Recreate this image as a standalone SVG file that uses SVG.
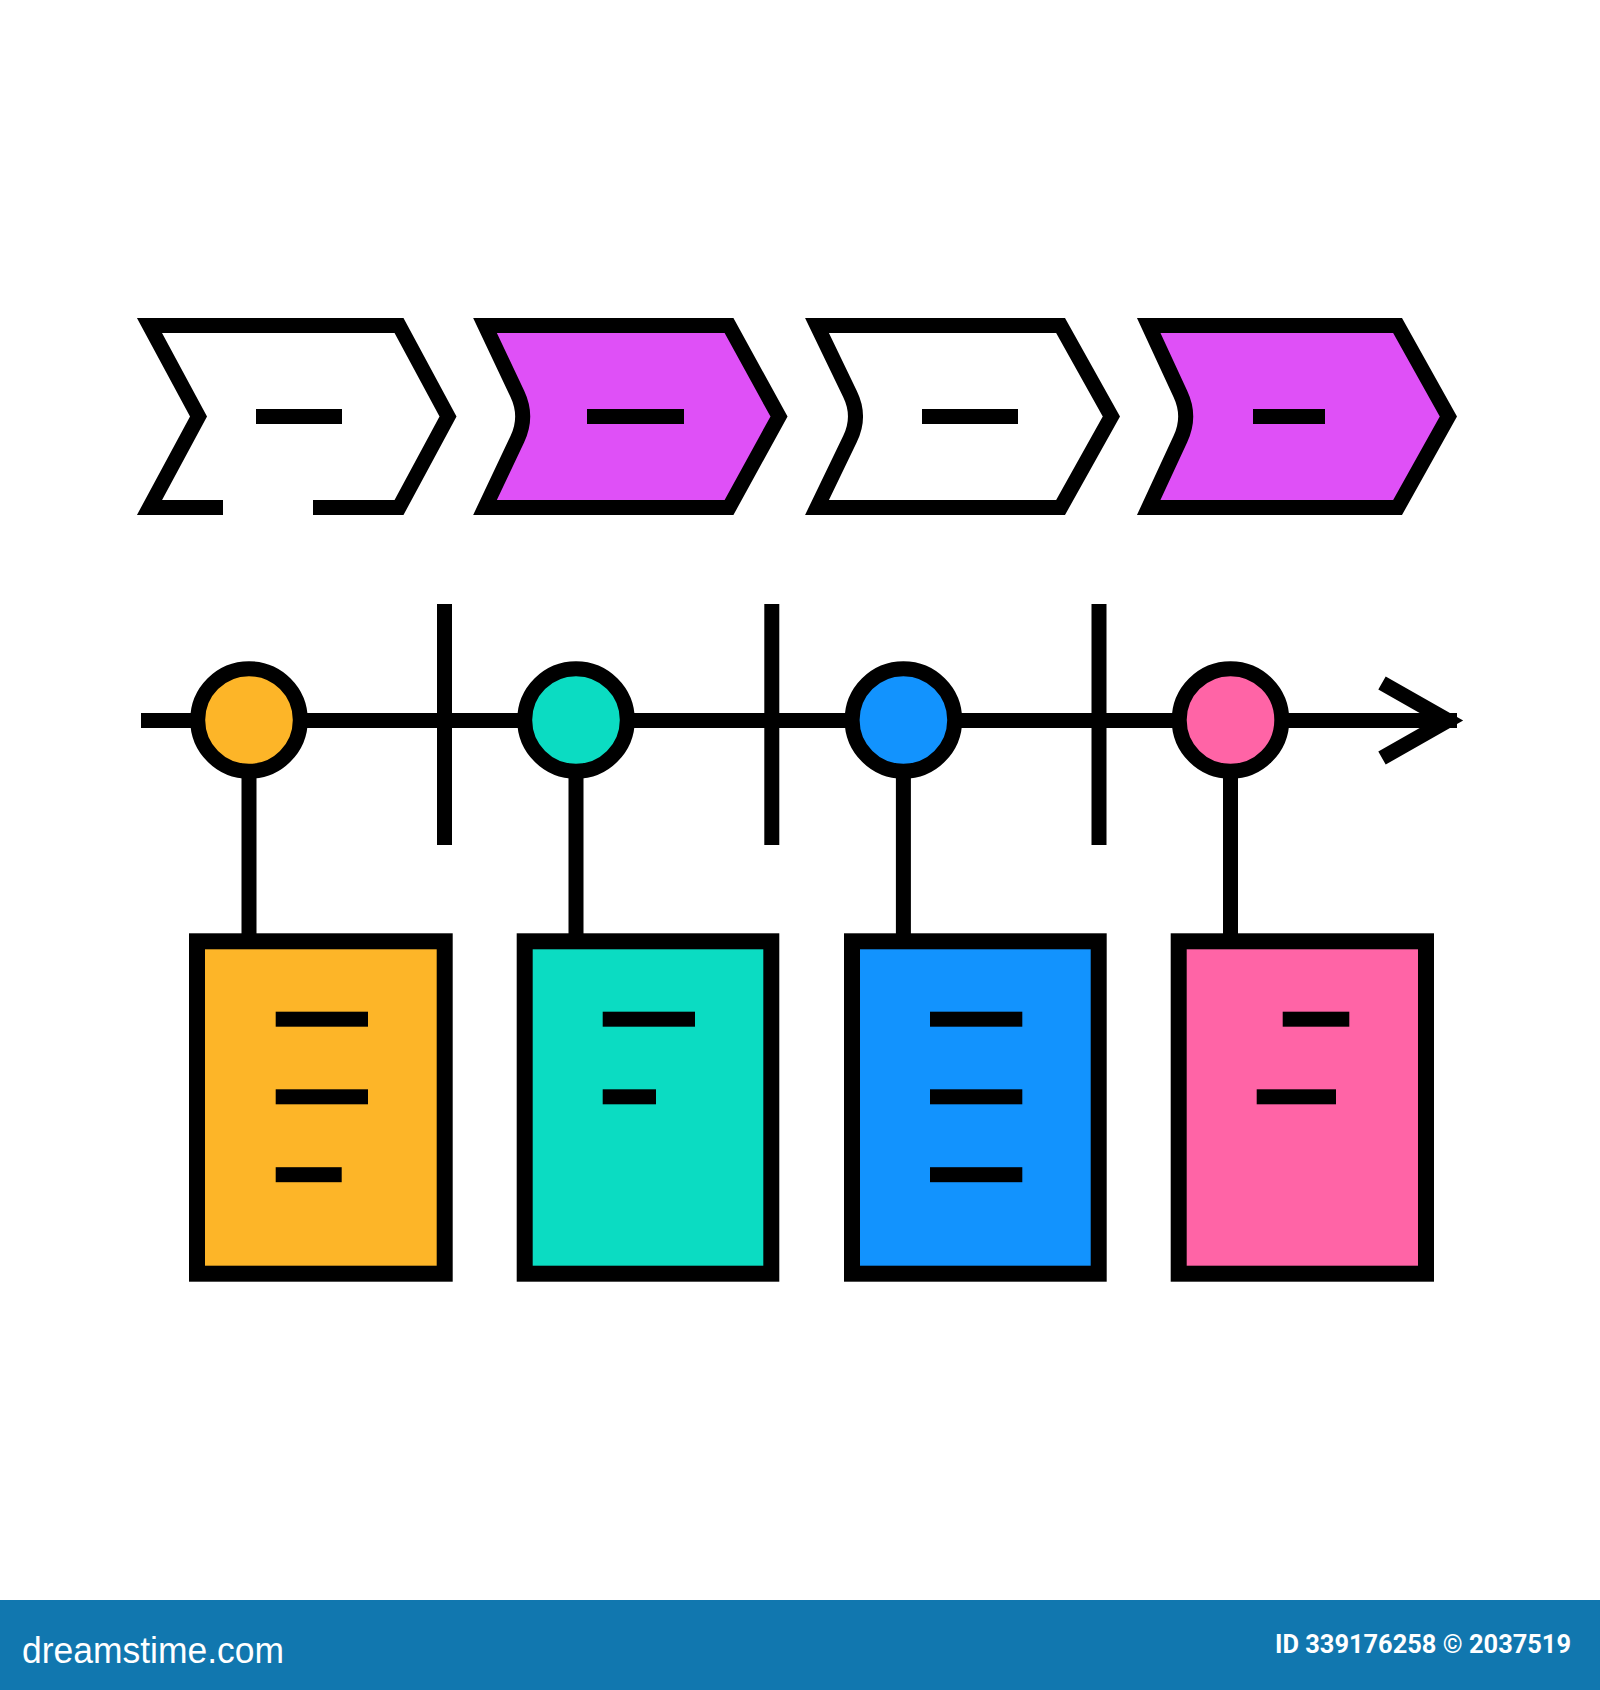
<svg xmlns="http://www.w3.org/2000/svg" width="1600" height="1690" viewBox="0 0 1600 1690">
<style>
.ln{fill:none;stroke:#000;stroke-width:15;stroke-linecap:butt;stroke-linejoin:miter;stroke-miterlimit:10}
.chev{stroke:#000;stroke-width:15;stroke-linejoin:miter;stroke-miterlimit:10}
.dash{fill:#000}
.node{stroke:#000;stroke-width:15}
.box{stroke:#000;stroke-width:16}
.purple{fill:#DF50F7}
.white{fill:#FFFFFF}
.orange{fill:#FDB528}
.teal{fill:#0BDCC2}
.blue{fill:#1293FE}
.pink{fill:#FF64A6}
.foot{fill:#FFFFFF}
</style>
<rect width="1600" height="1690" fill="#FFFFFF"/>

<g id="chevron-1">
  <path class="ln" d="M223,507.5 L149.5,507.5 L198.5,416.5 L149.5,325.5 L399,325.5 L448,416.5 L399,507.5 L313,507.5"/>
  <rect class="dash" x="256" y="409" width="86" height="15"/>
</g>
<g id="chevron-2">
  <path class="chev purple" d="M485,325.5 L729,325.5 L779,416.5 L729,507.5 L485,507.5 L517.4,439 Q528,416.5 517.4,394 Z"/>
  <rect class="dash" x="587" y="409" width="97" height="15"/>
</g>
<g id="chevron-3">
  <path class="chev white" d="M817,325.5 L1060.6,325.5 L1111.4,416.5 L1060.6,507.5 L817,507.5 L850,439 Q861,416.5 850,394 Z"/>
  <rect class="dash" x="922" y="409" width="96" height="15"/>
</g>
<g id="chevron-4">
  <path class="chev purple" d="M1148.7,325.5 L1397.6,325.5 L1448.4,416.5 L1397.6,507.5 L1148.7,507.5 L1180.4,439 Q1191,416.5 1180.4,394 Z"/>
  <rect class="dash" x="1253" y="409" width="72" height="15"/>
</g>

<g id="connectors">
  <line class="ln" x1="141" y1="720.5" x2="1457" y2="720.5"/>
  <polyline class="ln" points="1382,683 1448,720.5 1382,758"/>
  <line class="ln" x1="444.5" y1="604" x2="444.5" y2="845"/>
  <line class="ln" x1="771.8" y1="604" x2="771.8" y2="845"/>
  <line class="ln" x1="1099" y1="604" x2="1099" y2="845"/>
  <line class="ln" x1="249" y1="760" x2="249" y2="940"/>
  <line class="ln" x1="576" y1="760" x2="576" y2="940"/>
  <line class="ln" x1="903.4" y1="760" x2="903.4" y2="940"/>
  <line class="ln" x1="1230.5" y1="760" x2="1230.5" y2="940"/>
</g>

<g id="milestone-1">
  <circle class="node orange" cx="249" cy="720" r="51.3"/>
</g>
<g id="milestone-2">
  <circle class="node teal" cx="576" cy="720" r="51.3"/>
</g>
<g id="milestone-3">
  <circle class="node blue" cx="903.4" cy="720" r="51.3"/>
</g>
<g id="milestone-4">
  <circle class="node pink" cx="1230.5" cy="720" r="51.3"/>
</g>

<g id="card-1">
  <rect class="box orange" x="197" y="941.3" width="247.7" height="332.4"/>
  <rect class="dash" x="275.7" y="1011.7" width="92.3" height="15"/>
  <rect class="dash" x="275.7" y="1089.3" width="92.3" height="15"/>
  <rect class="dash" x="275.7" y="1167.2" width="66" height="15"/>
</g>
<g id="card-2">
  <rect class="box teal" x="524.7" y="941.3" width="246.6" height="332.4"/>
  <rect class="dash" x="602.7" y="1011.7" width="92.3" height="15"/>
  <rect class="dash" x="602.7" y="1089.3" width="53.3" height="15"/>
</g>
<g id="card-3">
  <rect class="box blue" x="852" y="941.3" width="246.7" height="332.4"/>
  <rect class="dash" x="930" y="1011.7" width="92.3" height="15"/>
  <rect class="dash" x="930" y="1089.3" width="92.3" height="15"/>
  <rect class="dash" x="930" y="1167.2" width="92.3" height="15"/>
</g>
<g id="card-4">
  <rect class="box pink" x="1178.7" y="941.3" width="247.3" height="332.4"/>
  <rect class="dash" x="1282.7" y="1011.7" width="66.6" height="15"/>
  <rect class="dash" x="1256.7" y="1089.3" width="79.3" height="15"/>
</g>

<g id="footer">
  <rect x="0" y="1600" width="1600" height="90" fill="#1177AF"/>
  <text class="foot" x="22" y="1663" font-family="'Liberation Sans', Arial, sans-serif" font-size="36" textLength="262" lengthAdjust="spacingAndGlyphs">dreamstime.com</text>
  <text class="foot" x="1275" y="1653" font-family="Roboto, 'Liberation Sans', sans-serif" font-weight="bold" font-size="25" textLength="296" lengthAdjust="spacingAndGlyphs">ID 339176258 © 2037519</text>
</g>
</svg>
